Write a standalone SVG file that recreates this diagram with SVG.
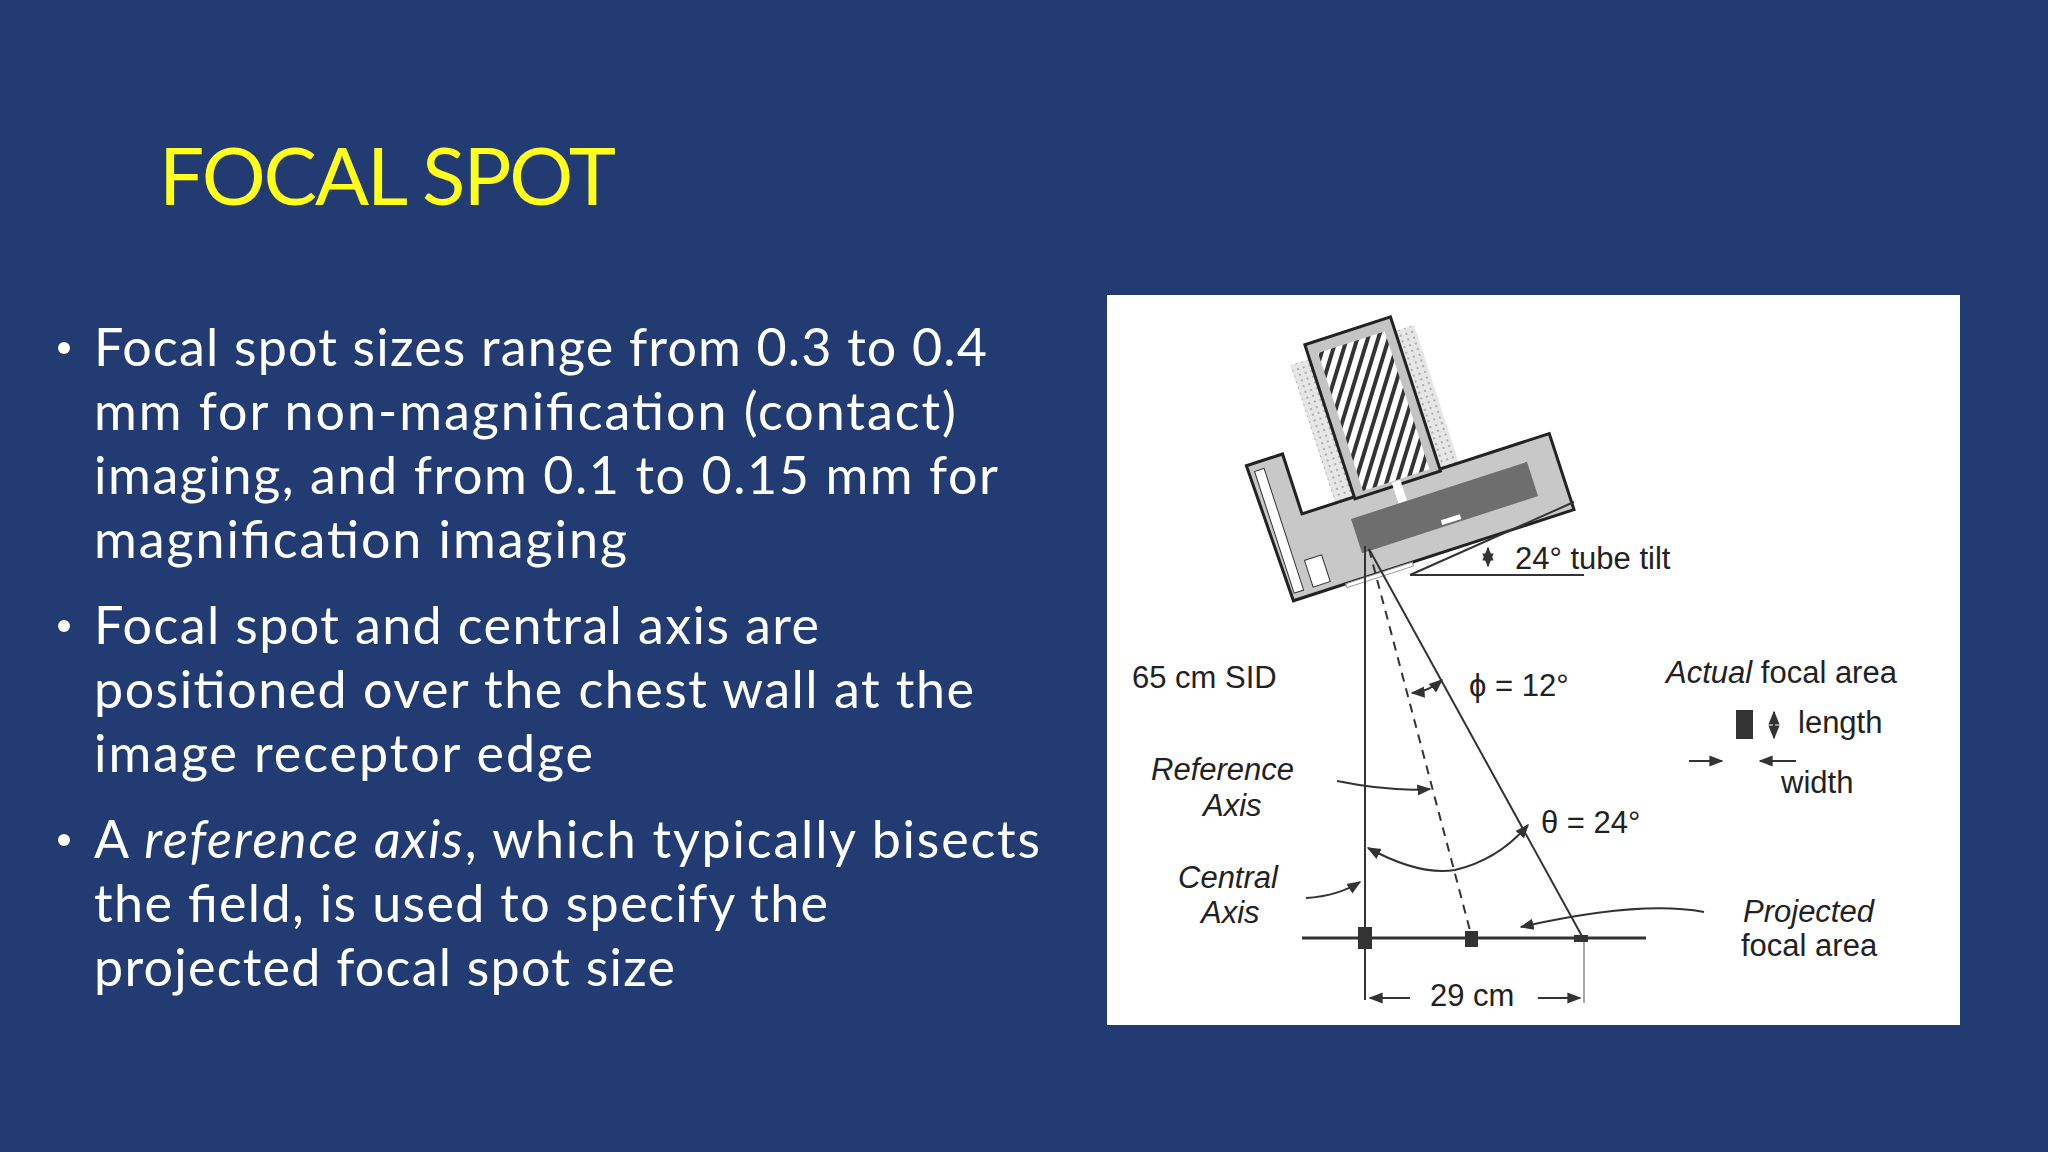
<svg xmlns="http://www.w3.org/2000/svg" width="2048" height="1152" viewBox="0 0 2048 1152">
<defs>
<style>
.b{font-family:Lato,"Open Sans",sans-serif;font-size:52px;fill:#fff}
.d{font-family:"Liberation Sans",Arial,sans-serif;font-size:31px;fill:#222}
.i{font-style:italic}
.ln{stroke:#333;stroke-width:2;fill:none}
</style>
<pattern id="hatch" width="10" height="10" patternUnits="userSpaceOnUse" patternTransform="rotate(35)"><rect width="10" height="10" fill="#fff"/><rect width="4" height="10" fill="#333"/></pattern>
<pattern id="dots" width="6" height="6" patternUnits="userSpaceOnUse"><rect width="6" height="6" fill="#e6e6e6"/><circle cx="3" cy="3" r="1" fill="#999"/></pattern>
<marker id="ah" viewBox="0 0 10 10" refX="9" refY="5" markerWidth="7" markerHeight="7" orient="auto-start-reverse"><path d="M0,1 L10,5 L0,9 Z" fill="#333"/></marker>
</defs>
<rect width="2048" height="1152" fill="#233b73"/>
<text x="159" y="205" font-family="Lato,'Open Sans',sans-serif" font-size="80" fill="#ffff1a" textLength="457">FOCAL SPOT</text>
<g id="bullets">
<circle cx="64" cy="348" r="6" fill="#fff"/><circle cx="64" cy="626" r="6" fill="#fff"/><circle cx="64" cy="840" r="6" fill="#fff"/>
<text class="b" x="94" y="366" textLength="893">Focal spot sizes range from 0.3 to 0.4</text>
<text class="b" x="94" y="430" textLength="862">mm for non-magnification (contact)</text>
<text class="b" x="94" y="494" textLength="904">imaging, and from 0.1 to 0.15 mm for</text>
<text class="b" x="94" y="558" textLength="533">magnification imaging</text>
<text class="b" x="94" y="644" textLength="725">Focal spot and central axis are</text>
<text class="b" x="94" y="708" textLength="880">positioned over the chest wall at the</text>
<text class="b" x="94" y="772" textLength="499">image receptor edge</text>
<text class="b" x="94" y="858" textLength="946">A <tspan font-style="italic">reference axis</tspan>, which typically bisects</text>
<text class="b" x="94" y="922" textLength="734">the field, is used to specify the</text>
<text class="b" x="94" y="986" textLength="581">projected focal spot size</text>
</g>
<rect x="1107" y="295" width="853" height="730" fill="#fff"/>
<g id="tube" transform="translate(1365,546) rotate(-18)">
<rect x="-15" y="-195" width="130" height="150" fill="url(#dots)"/>
<path d="M-88,-113 H-50 V-50 H210 V30 H-85 Z" fill="#c8c8c8" stroke="#222" stroke-width="3"/>
<rect x="5" y="-210" width="90" height="162" fill="#c4c4c4" stroke="#222" stroke-width="3"/>
<rect x="15" y="-198" width="70" height="145" fill="url(#hatch)"/>
<rect x="45" y="-52" width="9" height="22" fill="#fff"/>
<rect x="-82" y="-105" width="10" height="128" fill="#fff" stroke="#333"/>
<rect x="-62" y="-5" width="18" height="28" fill="#fff" stroke="#333"/>
<rect x="-5" y="-30" width="185" height="36" fill="#6e6e6e"/>
<rect x="80" y="-1" width="20" height="5" fill="#fff"/>
<rect x="-30" y="30" width="70" height="4" fill="#fff" stroke="#999"/>
</g>
<g id="connectors">
<line class="ln" x1="1365" y1="546" x2="1365" y2="1000"/>
<line class="ln" x1="1369" y1="549" x2="1472" y2="938" stroke-dasharray="9,7"/>
<line class="ln" x1="1369" y1="549" x2="1583" y2="938"/>
<line x1="1302" y1="938" x2="1646" y2="938" stroke="#333" stroke-width="3"/>
<line x1="1584" y1="942" x2="1584" y2="1003" stroke="#888" stroke-width="1.5"/>
<line class="ln" x1="1410" y1="575" x2="1584" y2="575"/>
<line class="ln" x1="1410" y1="575" x2="1574" y2="502"/>
<path class="ln" d="M1488,566 L1488,548" marker-end="url(#ah)" marker-start="url(#ah)"/>
<path class="ln" d="M1412,693 Q1428,692 1442,680" marker-start="url(#ah)" marker-end="url(#ah)"/>
<path class="ln" d="M1337,781 Q1392,792 1430,789" marker-end="url(#ah)"/>
<path class="ln" d="M1368,848 Q1420,876 1455,870 Q1498,860 1528,825" marker-start="url(#ah)" marker-end="url(#ah)"/>
<path class="ln" d="M1306,898 Q1338,896 1360,882" marker-end="url(#ah)"/>
<path class="ln" d="M1704,912 Q1640,900 1521,927" marker-end="url(#ah)"/>
<line class="ln" x1="1410" y1="998" x2="1370" y2="998" marker-end="url(#ah)" stroke-width="1.5"/>
<line class="ln" x1="1538" y1="998" x2="1580" y2="998" marker-end="url(#ah)" stroke-width="1.5"/>
<line class="ln" x1="1689" y1="761" x2="1722" y2="761" marker-end="url(#ah)" stroke-width="1.5"/>
<line class="ln" x1="1796" y1="761" x2="1760" y2="761" marker-end="url(#ah)" stroke-width="1.5"/>
<line class="ln" x1="1774" y1="712" x2="1774" y2="738" marker-start="url(#ah)" marker-end="url(#ah)" stroke-width="1.5"/>
</g>
<g id="markers" fill="#333">
<rect x="1358" y="927" width="14" height="22"/>
<rect x="1465" y="931" width="13" height="16"/>
<rect x="1574" y="935" width="14" height="7"/>
<rect x="1736" y="710" width="17" height="29"/>
</g>
<g id="labels">
<text class="d" x="1515" y="569">24° tube tilt</text>
<text class="d" x="1132" y="688">65 cm SID</text>
<text class="d" x="1469" y="696">ϕ = 12°</text>
<text class="d" x="1666" y="683"><tspan class="i">Actual</tspan> focal area</text>
<text class="d" x="1798" y="733">length</text>
<text class="d" x="1781" y="793">width</text>
<text class="d i" x="1151" y="780">Reference</text>
<text class="d i" x="1203" y="816">Axis</text>
<text class="d" x="1541" y="833">θ = 24°</text>
<text class="d i" x="1178" y="888">Central</text>
<text class="d i" x="1201" y="923">Axis</text>
<text class="d i" x="1743" y="922">Projected</text>
<text class="d" x="1741" y="956">focal area</text>
<text class="d" x="1430" y="1006">29 cm</text>
</g>
</svg>
